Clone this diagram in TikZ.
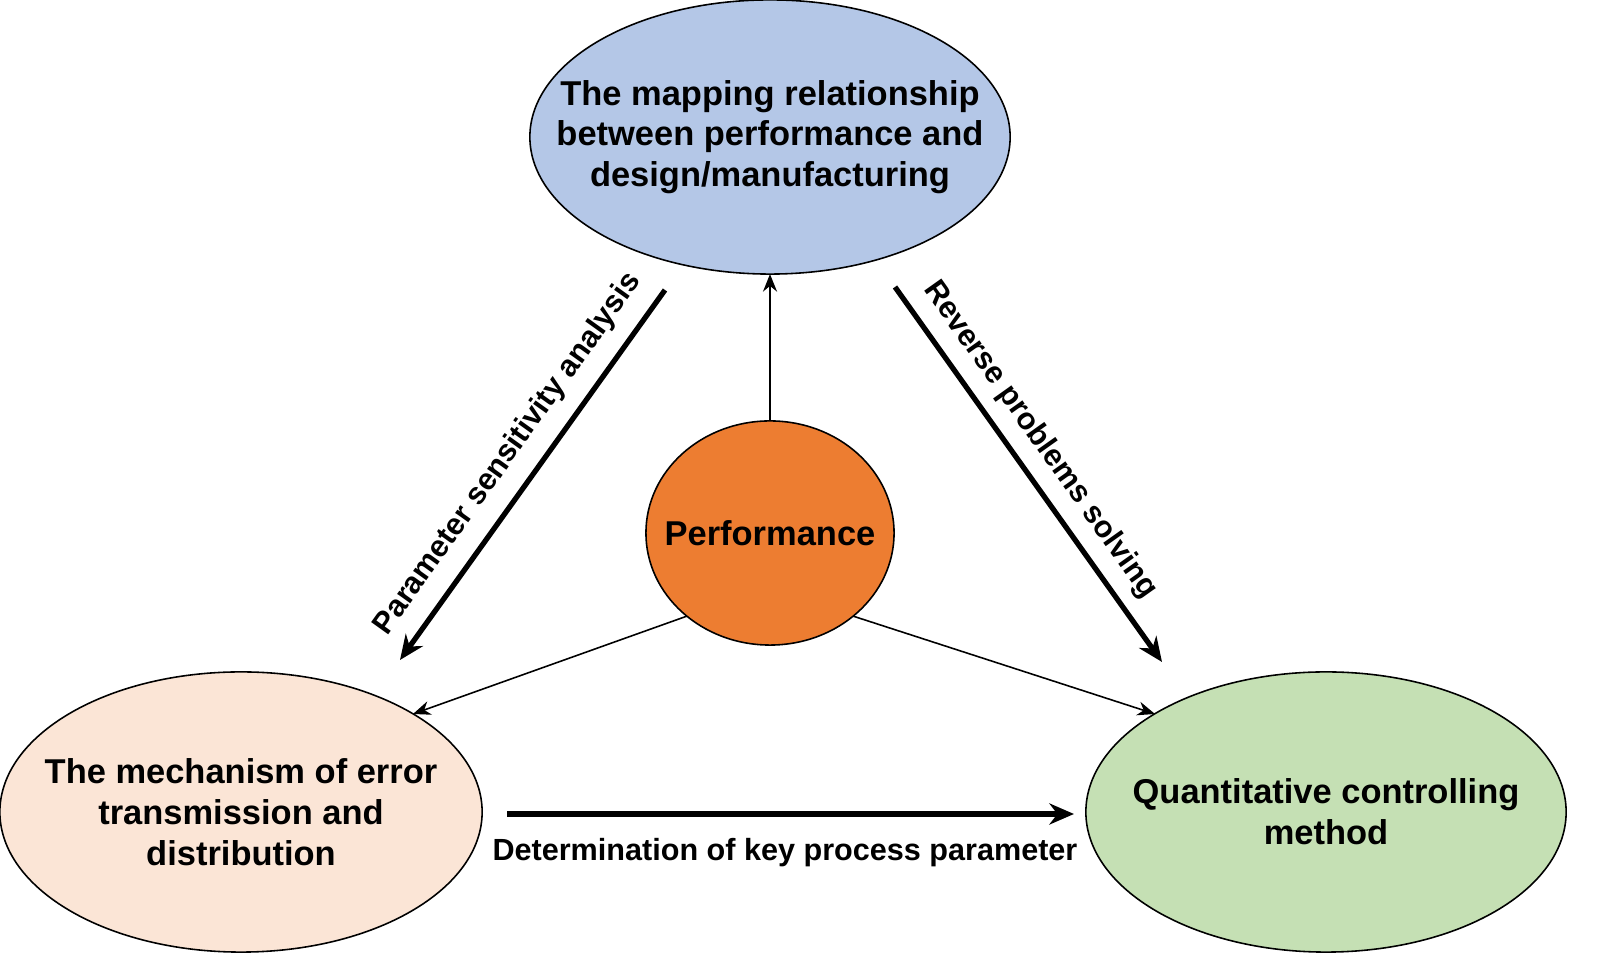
\documentclass[tikz,border=0pt]{standalone}
\usepackage{fontspec}
\setmainfont{Liberation Sans}
\usetikzlibrary{shapes.geometric,arrows.meta}
\definecolor{topc}{HTML}{B4C7E7}
\definecolor{perfc}{HTML}{ED7D31}
\definecolor{leftc}{HTML}{FBE5D6}
\definecolor{rightc}{HTML}{C5E0B4}
\begin{document}
\begin{tikzpicture}[x=0.01cm,y=-0.01cm,
  ell/.style={ellipse,draw,line width=0.45pt,inner sep=0pt,outer sep=0pt},
  txt/.style={align=center,font=\fontsize{9.8}{11.6}\selectfont\bfseries,inner sep=0pt},
  thin/.style={line width=0.45pt,-{Stealth[length=5pt,width=4pt]}},
  thick/.style={line width=1.5pt,-{Stealth[length=7pt,width=6pt]}},
  lab/.style={font=\fontsize{8.7}{10}\selectfont\bfseries}]
\useasboundingbox (0,0) rectangle (1600,974);
\node[ell,fill=topc,minimum width=4.8cm,minimum height=2.74cm] (top) at (770,137) {};
\node[txt] (toptxt) at (top.center) {The mapping relationship\\between performance and\\design/manufacturing};
\node[ell,fill=perfc,minimum width=2.48cm,minimum height=2.24cm] (perf) at (770,533) {};
\node[txt] (perftxt) at (perf.center) {Performance};
\node[ell,fill=leftc,minimum width=4.82cm,minimum height=2.8cm] (left) at (241,812) {};
\node[txt] (lefttxt) at (left.center) {The mechanism of error\\transmission and\\distribution};
\node[ell,fill=rightc,minimum width=4.8cm,minimum height=2.8cm] (right) at (1326,812) {};
\node[txt] (righttxt) at (right.center) {Quantitative controlling\\method};
\coordinate (a1) at (665,290); \coordinate (a2) at (400,660);
\coordinate (b1) at (895,287); \coordinate (b2) at (1162,662);
\coordinate (c1) at (507,814); \coordinate (c2) at (1074,814);
\draw[thick] (a1) -- (a2);
\draw[thick] (b1) -- (b2);
\draw[thick] (c1) -- (c2);
\draw[thin] (perf.north) -- (top.south);
\draw[thin] (perf.-135) -- (413,714);
\draw[thin] (perf.-45) -- (1155,714);
\node[lab,rotate=54.4] (la) at (508,454) {Parameter sensitivity analysis};
\node[lab,rotate=-54.6] (lb) at (1040,440) {Reverse problems solving};
\node[lab] (lc) at (785,853) {Determination of key process parameter};
\end{tikzpicture}
\end{document}
